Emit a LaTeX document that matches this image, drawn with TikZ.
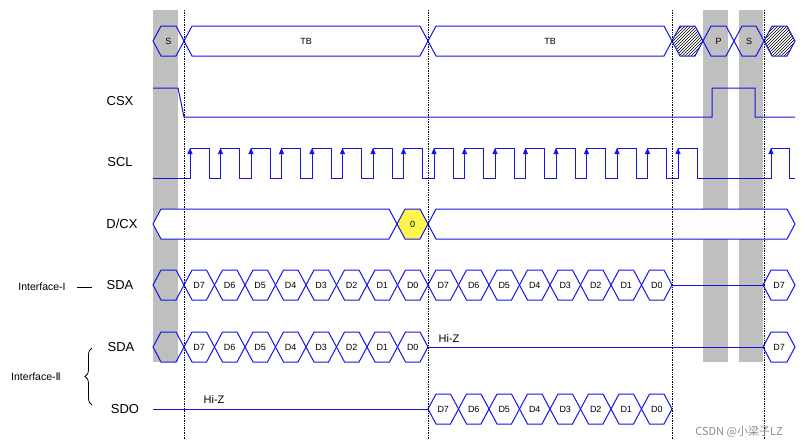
\documentclass[tikz,border=0pt]{standalone}
\usepackage{fontspec}
\setmainfont{Liberation Sans}
\newfontfamily\djv{DejaVu Sans}
\newfontfamily\cjk{Noto Sans CJK SC}
\usetikzlibrary{patterns,decorations.pathreplacing,arrows.meta}
\definecolor{sigblue}{RGB}{20,20,235}
\tikzset{sig/.style={draw=sigblue,line width=1pt,line join=miter},
 gry/.style={fill=black!25,draw=none},
 vdot/.style={densely dotted,black,line width=0.7pt},
 cell/.style={font=\fontsize{9}{10}\selectfont,inner sep=0pt},
 lab/.style={font=\fontsize{13}{15}\selectfont,inner sep=0pt}}
\newcommand\hexa[5]{\draw[sig,#5] (#1,#3) -- ({#1+8},{#3-15}) -- ({#2-8},{#3-15}) -- (#2,#3) -- ({#2-8},{#3+15}) -- ({#1+8},{#3+15}) -- cycle;
 \node[cell] at ({(#1+#2)/2},#3) {#4};}
\newcommand\bytecells[2]{\foreach \i/\t in {0/D7,1/D6,2/D5,3/D4,4/D3,5/D2,6/D1,7/D0}{\pgfmathsetmacro\xa{#1+30.5*\i}\pgfmathsetmacro\xb{\xa+30.5}\hexa{\xa}{\xb}{#2}{\t}{fill=white}}}
\begin{document}
\begin{tikzpicture}[x=1pt,y=-1pt]
\useasboundingbox (0,0) rectangle (807,447);
% gray bars
\fill[gry] (153,10) rectangle (178,362);
\fill[gry] (703,10) rectangle (728,362);
\fill[gry] (739,10) rectangle (763,362);
% top row
\hexa{153}{184}{41}{S}{}
\hexa{184}{428}{41}{TB}{fill=white}
\hexa{428}{672}{41}{TB}{fill=white}
\hexa{672}{703}{41}{}{pattern=north east lines}
\hexa{703}{734}{41}{P}{}
\hexa{734}{764}{41}{S}{}
\hexa{764}{795}{41}{}{pattern=north east lines}
% CSX
\draw[sig] (153,88) -- (178,88) -- (184,117) -- (712,117) -- (712,88) -- (755,88) -- (755,117) -- (795,117);
% SCL
\draw[sig] (153,178) foreach \k in {0,...,16}{ -- ({190+30.5*\k},178) -- ({190+30.5*\k},148) -- ({209+30.5*\k},148) -- ({209+30.5*\k},178)} -- (771,178) -- (771,148) -- (789,148) -- (789,178) -- (795,178);
\foreach \k in {0,...,16}{\draw[sigblue,-{Triangle[length=6pt,width=5pt]},line width=1pt] ({190+30.5*\k},165) -- ({190+30.5*\k},148);}
\draw[sigblue,-{Triangle[length=6pt,width=5pt]},line width=1pt] (771,165) -- (771,148);
% D/CX
\hexa{153}{397}{224}{}{fill=white}
\hexa{397}{428}{224}{0}{fill=yellow!70}
\hexa{428}{795}{224}{}{fill=white}
% SDA I
\hexa{153}{184}{285}{}{}
\bytecells{184}{285}
\bytecells{428}{285}
\draw[sig] (672,285) -- (763,285);
\hexa{763}{795}{285}{D7}{fill=white}
% SDA II
\hexa{153}{184}{347}{}{}
\bytecells{184}{347}
\draw[sig] (428,347) -- (763,347);
\hexa{763}{795}{347}{D7}{fill=white}
\node[font=\fontsize{11}{13}\selectfont,inner sep=0pt] at (449,339) {Hi-Z};
% SDO
\draw[sig] (153,409) -- (428,409);
\node[font=\fontsize{11}{13}\selectfont,inner sep=0pt] at (214,400) {Hi-Z};
\bytecells{428}{409}
% dotted
\foreach \x in {184,428,672,764}{\draw[vdot] (\x,10) -- (\x,440);}
% labels
\node[lab] at (120,101) {CSX};
\node[lab] at (120,162) {SCL};
\node[lab] at (122,224) {D/CX};
\node[lab] at (120,285) {SDA};
\node[lab] at (121,347) {SDA};
\node[lab] at (125,409) {SDO};
\node[font=\fontsize{10.5}{12}\selectfont,inner sep=0pt] at (42,287) {Interface-I};
\draw[black,line width=0.8pt] (77,287) -- (92,287);
\node[font=\fontsize{10.5}{12}\selectfont,inner sep=0pt] at (36,377) {Interface-{\djv Ⅱ}};
\draw[black,line width=0.8pt,decorate,decoration={brace,amplitude=7pt}] (92,405) -- (92,348);
\node[font=\cjk\fontsize{11}{13}\selectfont,text=black!45,inner sep=0pt] at (739,432) {CSDN @小梁子LZ};
\end{tikzpicture}
\end{document}
